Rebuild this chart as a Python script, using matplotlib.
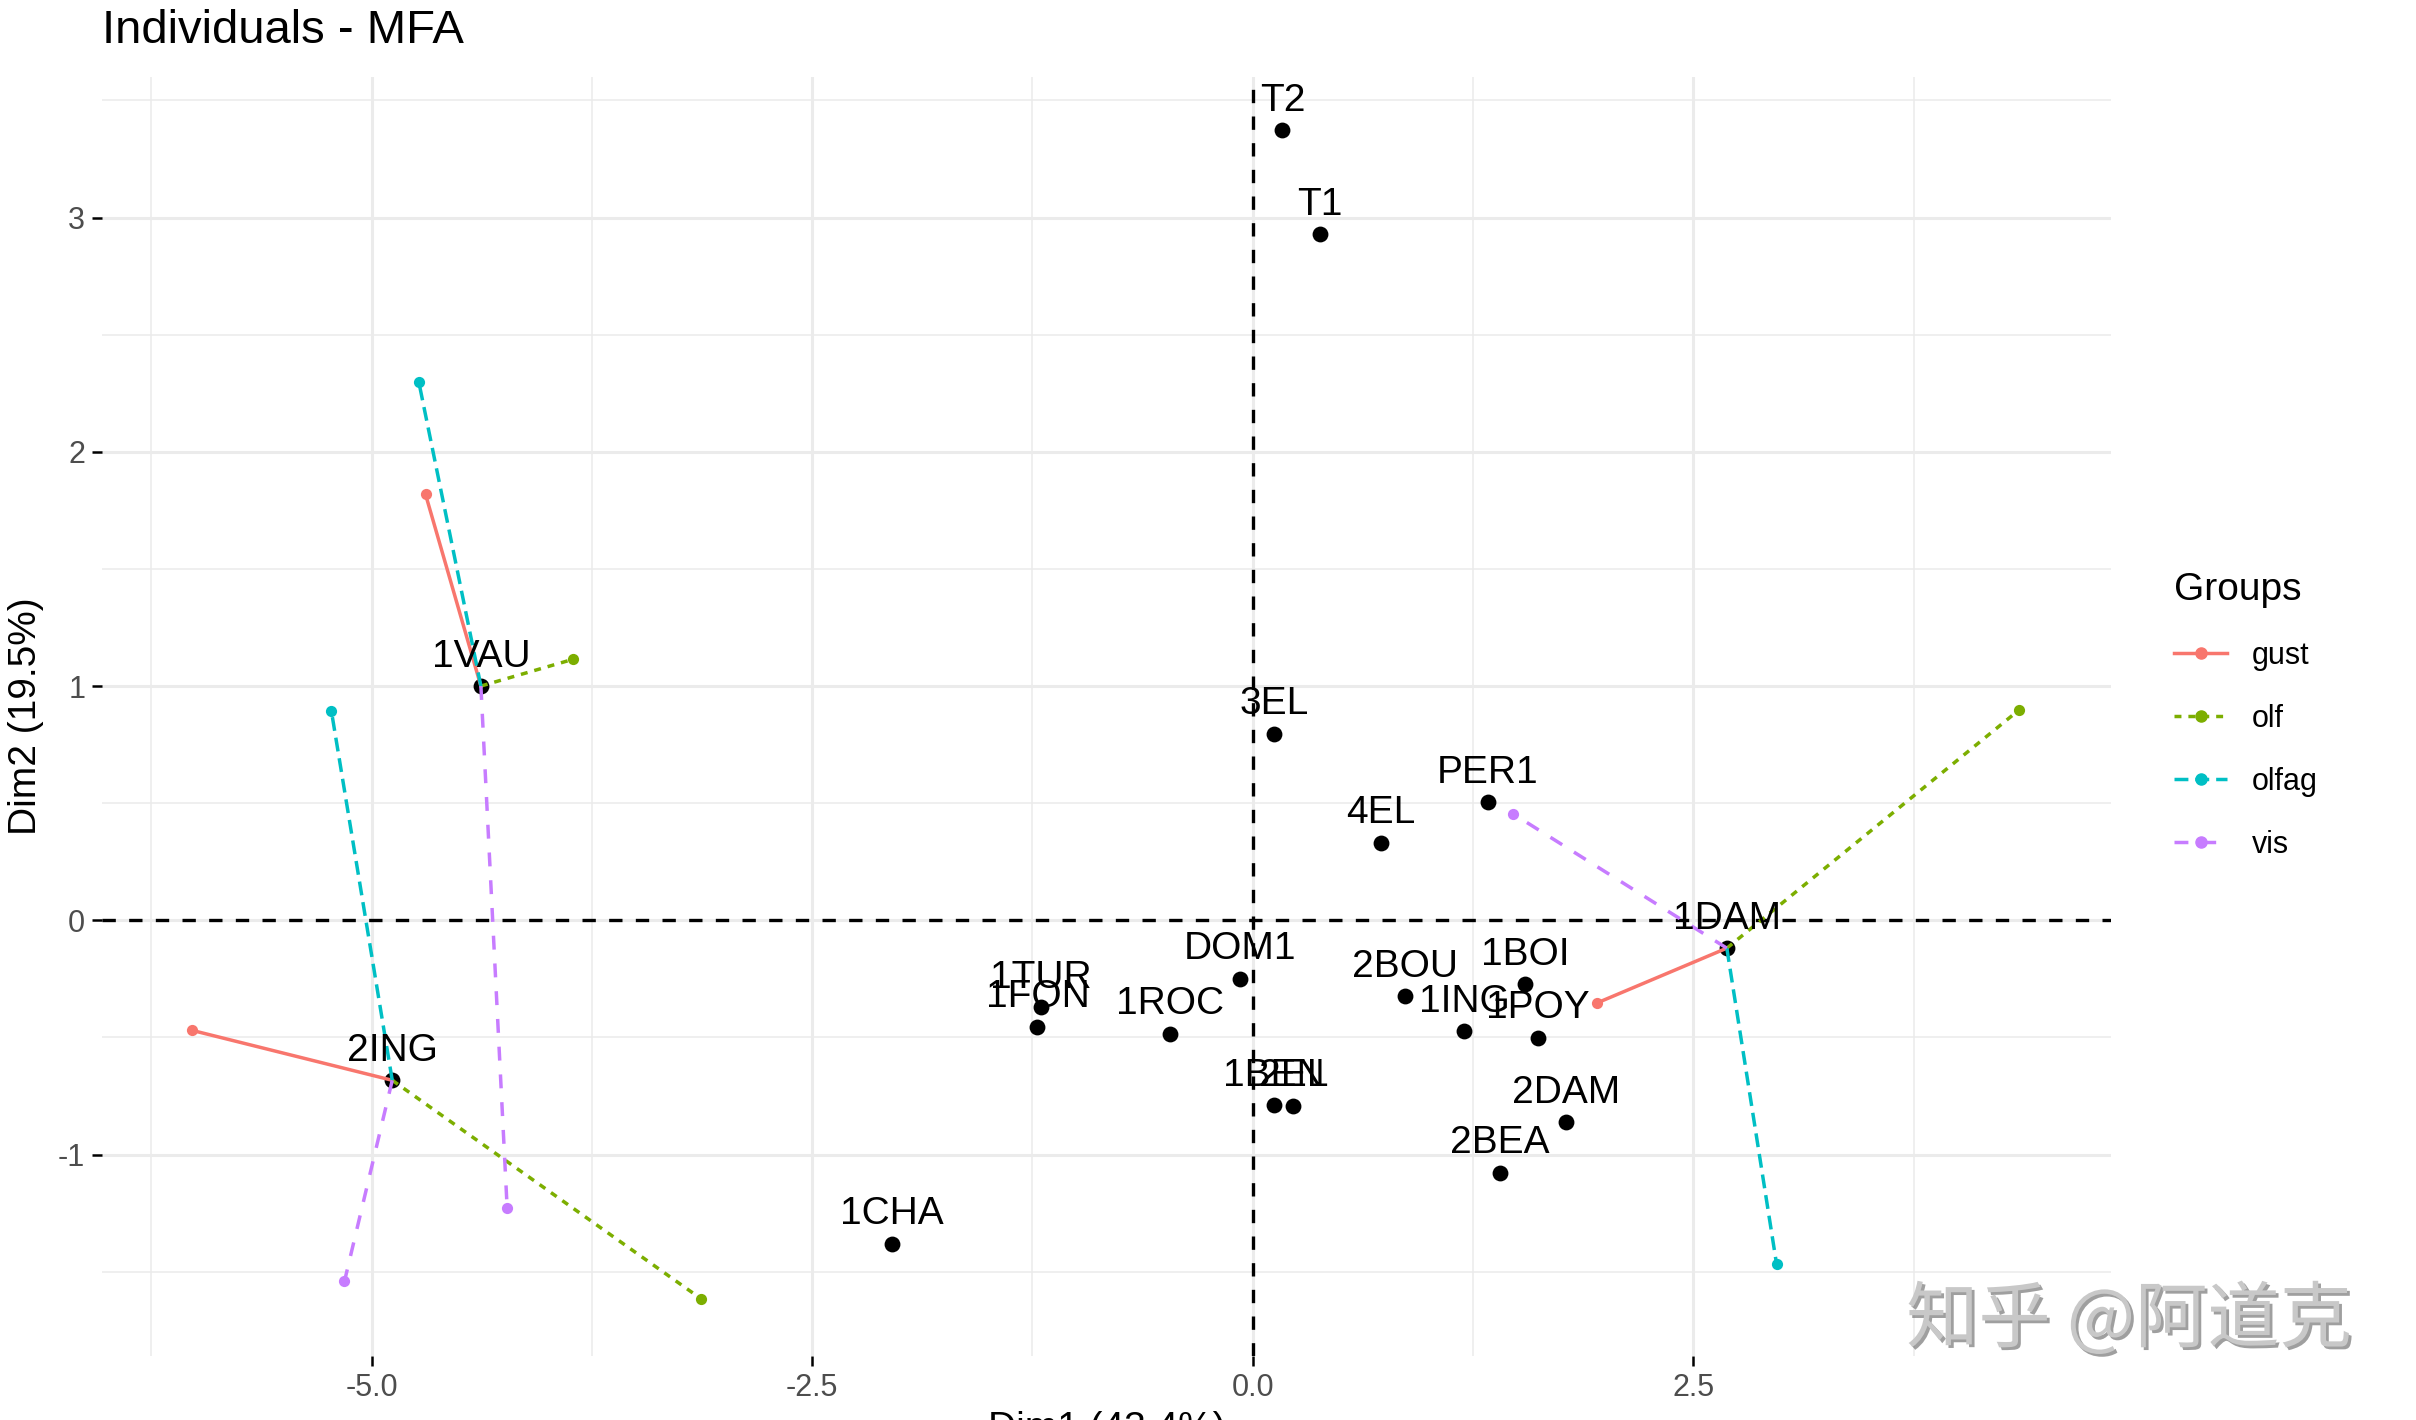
import matplotlib
matplotlib.use("Agg")
import matplotlib.pyplot as plt
import matplotlib.patheffects as pe
from matplotlib.lines import Line2D

plt.rcParams['font.family'] = ['Liberation Sans', 'DejaVu Sans']

# ---- data ----
ind_names = ["T2", "T1", "3EL", "4EL", "PER1", "1DAM", "DOM1", "2BOU", "1BOI",
             "1ING", "1POY", "1TUR", "1FON", "1ROC", "1BEN", "2EL", "2DAM",
             "2BEA", "1CHA", "2ING", "1VAU"]
ind_x = [0.168, 0.380, 0.122, 0.729, 1.335, 2.690, -0.071, 0.865, 1.546,
         1.199, 1.619, -1.203, -1.222, -0.470, 0.121, 0.230, 1.777,
         1.402, -2.047, -4.883, -4.380]
ind_y = [3.372, 2.928, 0.796, 0.332, 0.505, -0.119, -0.250, -0.323, -0.273,
         -0.474, -0.501, -0.370, -0.455, -0.484, -0.790, -0.792, -0.861,
         -1.078, -1.380, -0.683, 1.000]

groups = ["gust", "olf", "olfag", "vis"]
group_colors = ["#F8766D", "#7CAE00", "#00BFC4", "#C77CFF"]
group_styles = ["solid", (0, (2, 2)), (0, (4, 2)), (0, (4, 4))]

partial_ind = ["1VAU", "2ING", "1DAM"]
partial_x = {
    "gust":  [-4.694, -6.018, 1.953],
    "olf":   [-3.858, -3.132, 4.350],
    "olfag": [-4.732, -5.228, 2.972],
    "vis":   [-4.231, -5.154, 1.476],
}
partial_y = {
    "gust":  [1.818, -0.470, -0.353],
    "olf":   [1.114, -1.615, 0.899],
    "olfag": [2.297, 0.892, -1.466],
    "vis":   [-1.228, -1.541, 0.455],
}

x_major = [-5.0, -2.5, 0.0, 2.5]
x_minor = [-6.25, -3.75, -1.25, 1.25, 3.75]
y_major = [-1, 0, 1, 2, 3]
y_minor = [-1.5, -0.5, 0.5, 1.5, 2.5, 3.5]

title = "Individuals - MFA"
xlabel = "Dim1 (43.4%)"
ylabel = "Dim2 (19.5%)"

# ---- figure ----
W, H = 2416, 1420
fig = plt.figure(figsize=(W / 100, H / 100), dpi=100)
L, R, T, B = 102, 2111, 77, 1356
ax = fig.add_axes([L / W, 1 - B / H, (R - L) / W, (B - T) / H])
ax.set_xlim(-6.53, 4.87)
ax.set_ylim(-1.86, 3.60)

for s in ax.spines.values():
    s.set_visible(False)

ax.set_xticks(x_major)
ax.set_xticklabels([f"{v:.1f}" for v in x_major])
ax.set_xticks(x_minor, minor=True)
ax.set_yticks(y_major)
ax.set_yticklabels([str(v) for v in y_major])
ax.set_yticks(y_minor, minor=True)
ax.grid(which='major', color='#EBEBEB', lw=2.2)
ax.grid(which='minor', color='#EBEBEB', lw=1.1)
ax.set_axisbelow(True)
ax.tick_params(which='major', length=7, width=1.8, color='black',
               labelsize=22, labelcolor='#4D4D4D', pad=5)
ax.tick_params(which='minor', length=0)

ax.axhline(0, color='black', ls=(0, (4, 4)), lw=2.4, zorder=2)
ax.axvline(0, color='black', ls=(0, (4, 4)), lw=2.4, zorder=2)

# individuals
ax.scatter(ind_x, ind_y, s=130, color='black', zorder=3, linewidths=0)

# partial axes lines
handles = []
for g, c, ls in zip(groups, group_colors, group_styles):
    for i, name in enumerate(partial_ind):
        k = ind_names.index(name)
        ax.plot([ind_x[k], partial_x[g][i]], [ind_y[k], partial_y[g][i]],
                color=c, ls=ls, lw=2.5, zorder=4)
    ax.scatter(partial_x[g], partial_y[g], s=65, color=c, zorder=5, linewidths=0)
    handles.append(Line2D([], [], color=c, ls=ls, lw=2.5, marker='o', ms=8))

for n, x, y in zip(ind_names, ind_x, ind_y):
    ax.annotate(n, (x, y), xytext=(0, 14), textcoords='offset points',
                ha='center', va='baseline', fontsize=28, color='black', zorder=6)

ax.set_xlabel(xlabel, fontsize=28, labelpad=6)
ax.set_ylabel(ylabel, fontsize=28, labelpad=10)

fig.text(L / W, 1 - 43 / H, title, fontsize=34, ha='left', va='baseline')

leg = fig.legend(handles, groups, title="Groups", loc='upper left',
                 bbox_to_anchor=(2174 / W, 1 - 572 / H), frameon=False,
                 fontsize=22, title_fontsize=28, handlelength=1.75,
                 handletextpad=0.8, labelspacing=1.08, borderpad=0,
                 borderaxespad=0, alignment='left')

fig.text(2129 / W, 1 - 1321 / H, "知乎 @阿道克", fontsize=52, color='#C8C8C8',
         ha='center', va='center',
         family=['Noto Sans CJK SC', 'DejaVu Sans'],
         path_effects=[pe.withSimplePatchShadow(offset=(2, -2), shadow_rgbFace='#777777', alpha=0.7)])

fig.savefig("out.png", dpi=100)
